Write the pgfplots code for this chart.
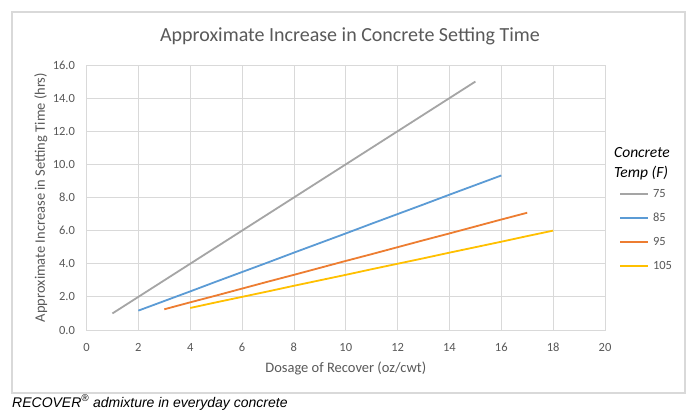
\documentclass[border=0pt]{standalone}
\usepackage{pgfplots}
\pgfplotsset{compat=1.18}
\usepackage{fontspec}
\setmainfont{Carlito}
\newfontfamily\capfont{Liberation Sans}
\definecolor{c75}{HTML}{A5A5A5}
\definecolor{c85}{HTML}{5B9BD5}
\definecolor{c95}{HTML}{ED7D31}
\definecolor{c105}{HTML}{FFC000}
\definecolor{txt}{HTML}{595959}
\definecolor{gridc}{HTML}{D9D9D9}

\begin{document}
\begin{tikzpicture}
\path[use as bounding box, fill=white] (0pt,0pt) rectangle (700pt,417pt);
\draw[gridc, line width=1.2pt] (12pt,24pt) rectangle (685pt,405pt);
\node[font=\fontsize{20}{22}\selectfont, text=txt, anchor=base, inner sep=0pt] at (350pt,375pt) {Approximate Increase in Concrete Setting Time};
\node[font=\capfont\itshape\fontsize{14}{16}\selectfont, anchor=base west, inner sep=0pt] at (12pt,10pt) {RECOVER\textsuperscript{\textregistered} admixture in everyday concrete};
\node[font=\itshape\fontsize{15.5}{18}\selectfont, anchor=west, inner sep=0pt] at (614pt,264pt) {Concrete};
\node[font=\itshape\fontsize{15.5}{18}\selectfont, anchor=west, inner sep=0pt] at (614pt,244pt) {Temp (F)};
    \begin{axis} [at={(86.5pt,87pt)}, anchor=south west, scale only axis, width=518.5pt, height=265pt,
        xmin=0, xmax=20, ymin=0, ymax=16, xtick={0,2,...,20}, ytick={0,2,...,16},
        grid=major, major grid style={gridc, line width=0.8pt},
        axis line style={gridc, line width=0.8pt}, tick style={draw=none},
        clip=false,
        /pgf/number format/assume math mode=true,
        yticklabel={\pgfmathprintnumber[fixed,fixed zerofill,precision=1]{\tick}},
        ticklabel style={font=\fontsize{12.5}{14}\selectfont, text=txt},
        xticklabel style={anchor=center, yshift=-17pt},
        yticklabel style={anchor=east, xshift=-8pt},
        xlabel={Dosage of Recover (oz/cwt)}, ylabel={Approximate Increase in Setting Time (hrs)},
        label style={font=\fontsize{14.5}{16}\selectfont, text=txt},
        xlabel style={at={(axis description cs:0.5,-0.1434)}, anchor=center},
        ylabel style={at={(axis description cs:-0.0883,0.5)}, anchor=center},
        legend style={at={(axis description cs:1.027,0.5585)}, anchor=north west, draw=none, fill=none,
            font=\fontsize{12.5}{14}\selectfont, text=txt, row sep=0pt, column sep=4pt, inner sep=0pt,
            nodes={inner sep=0pt, minimum height=24pt}},
        legend cell align=left,
        legend image code/.code={\draw[#1] (0pt,0pt) -- (28pt,0pt);},
        every axis plot/.append style={line width=1.8pt}]
    \addplot[c75] coordinates {
        (1,1) (2,2) (3,3) (4,4) (5,5) (6,6) (7,7) (8,8) (9,9) (10,10)
        (11,11) (12,12) (13,13) (14,14) (15,15)
    };
    \addplot[c85] coordinates {
        (2,1.17) (3,1.75) (4,2.33) (5,2.92) (6,3.5) (7,4.08) (8,4.67) (9,5.25)
        (10,5.83) (11,6.42) (12,7.0) (13,7.58) (14,8.17) (15,8.75) (16,9.33)
    };
    \addplot[c95] coordinates {
        (3,1.25) (4,1.67) (5,2.08) (6,2.5) (7,2.92) (8,3.33) (9,3.75) (10,4.17)
        (11,4.58) (12,5.0) (13,5.42) (14,5.83) (15,6.25) (16,6.67) (17,7.08)
    };
    \addplot[c105] coordinates {
        (4,1.33) (5,1.67) (6,2.0) (7,2.33) (8,2.67) (9,3.0) (10,3.33) (11,3.67)
        (12,4.0) (13,4.33) (14,4.67) (15,5.0) (16,5.33) (17,5.67) (18,6.0)
    };
    \legend{75, 85, 95, 105}
    \end{axis}
\end{tikzpicture}
\end{document}
